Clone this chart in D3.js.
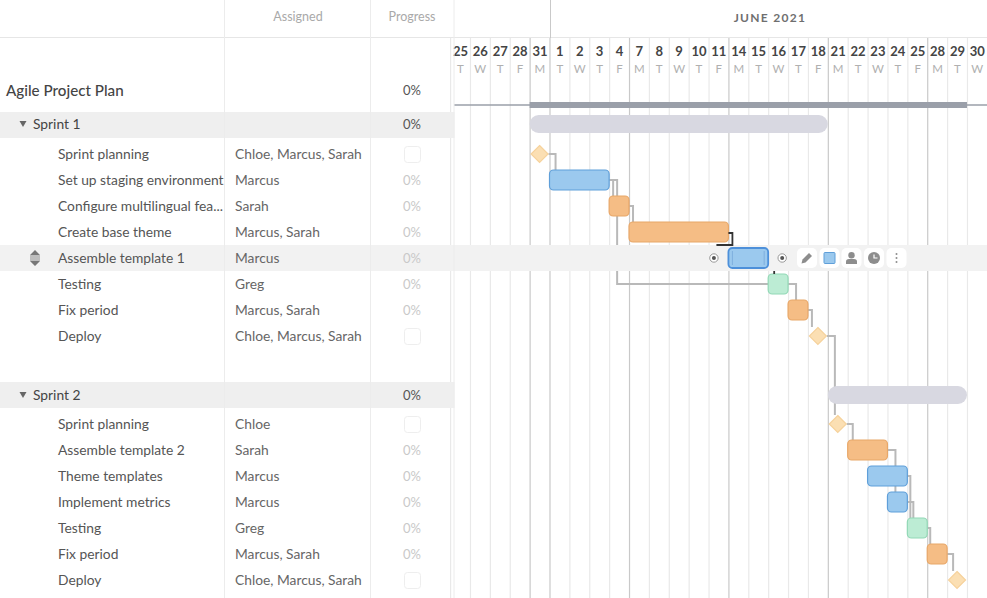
<!DOCTYPE html>
<html>
<head>
<meta charset="utf-8">
<script src="https://cdn.jsdelivr.net/npm/d3@7"></script>
<style>
  html, body { margin: 0; padding: 0; background: #fff; overflow: hidden; }
  svg { display: block; font-family: Lato, "Open Sans", sans-serif; }
</style>
</head>
<body>
<svg id="chart" width="987" height="598"></svg>
<script>
const dayNumbers = [25, 26, 27, 28, 31, 1, 2, 3, 4, 7, 8, 9, 10, 11, 14, 15, 16, 17, 18, 21, 22, 23, 24, 25, 28, 29, 30];
const weekDays = ["T", "W", "T", "F", "M", "T", "W", "T", "F", "M", "T", "W", "T", "F", "M", "T", "W", "T", "F", "M", "T", "W", "T", "F", "M", "T", "W"];

// one entry per row, "" is the empty row between the sprints
const rowNames = ["Agile Project Plan", "Sprint 1", "Sprint planning", "Set up staging environment", "Configure multilingual fea...", "Create base theme", "Assemble template 1", "Testing", "Fix period", "Deploy", "", "Sprint 2", "Sprint planning", "Assemble template 2", "Theme templates", "Implement metrics", "Testing", "Fix period", "Deploy"];
const rowAssigned = ["", "", "Chloe, Marcus, Sarah", "Marcus", "Sarah", "Marcus, Sarah", "Marcus", "Greg", "Marcus, Sarah", "Chloe, Marcus, Sarah", "", "", "Chloe", "Sarah", "Marcus", "Marcus", "Greg", "Marcus, Sarah", "Chloe, Marcus, Sarah"];
const rowKinds = ["project", "sprint", "milestone", "blue", "orange", "orange", "blue", "green", "orange", "milestone", "none", "sprint", "milestone", "orange", "blue", "blue", "green", "orange", "milestone"];
const rowStart = [4, 4, 4, 5, 8, 9, 14, 16, 17, 18, null, 19, 19, 20, 21, 22, 23, 24, 25];
const rowEnd = [26, 19, 5, 8, 9, 14, 16, 17, 18, 19, null, 26, 20, 22, 23, 23, 24, 25, 26];

// from row, to row, style of the elbow
const linkFrom = [2, 3, 3, 4, 7, 8, 9, 12, 13, 14, 15, 14, 16, 17];
const linkTo = [3, 4, 7, 5, 8, 9, 12, 13, 14, 16, 16, 15, 17, 18];
const linkBend = [7, 4, 8, 4, 8, 4, 8, 6, 8, 3, 6, 8, 3, 6];

const selectedRow = 6;
const width = 987;
const height = 598;
const panelRight = 454.5;
const svg = d3.select("#chart");

const x = d3.scaleLinear().domain([0, 27]).range([450.1, 986.86]);
// row tops are uneven, the title row and the sprint rows are taller
const rowCentre = [90, 124, 154, 180, 206, 232, 258, 284, 310, 336, 362, 395, 424, 450, 476, 502, 528, 554, 580];
const y = d3.scaleOrdinal().domain(d3.range(rowNames.length)).range(rowCentre);

const isBoundary = (i) => weekDays[i] === "M" || dayNumbers[i] === 1;

const colors = {
  blue: ["#9bc9ee", "#5f9fd9"],
  orange: ["#f5bd85", "#e8a768"],
  green: ["#bcecd4", "#92d8b6"],
  milestone: ["#fbdfb3", "#f6d29c"],
};

// grid
svg.append("g").selectAll("line").data(d3.range(27)).join("line")
  .attr("x1", (d) => x(d) + 0.5).attr("x2", (d) => x(d) + 0.5)
  .attr("y1", 38).attr("y2", height)
  .attr("stroke", (d) => (isBoundary(d) ? "#c9c9c9" : "#e9e9e9"))
  .attr("stroke-width", 1.2);

// header
svg.append("line").attr("x1", 0).attr("x2", width).attr("y1", 37.5).attr("y2", 37.5).attr("stroke", "#e6e6e6");
svg.append("line").attr("x1", x(5) + 1).attr("x2", x(5) + 1).attr("y1", 0).attr("y2", 38).attr("stroke", "#c9c9c9");
svg.append("text").attr("x", 770).attr("y", 22).attr("text-anchor", "middle")
  .attr("font-size", 12).attr("font-weight", 700).attr("letter-spacing", 1.3).attr("fill", "#6f6f6f")
  .text("JUNE 2021");
svg.append("g").selectAll("text").data(dayNumbers).join("text")
  .attr("x", (d, i) => x(i + 0.5) + 0.4).attr("y", 56).attr("text-anchor", "middle")
  .attr("font-size", 13).attr("font-weight", 700).attr("fill", "#444")
  .text((d) => d);
svg.append("g").selectAll("text").data(weekDays).join("text")
  .attr("x", (d, i) => x(i + 0.5) + 0.4).attr("y", 73).attr("text-anchor", "middle")
  .attr("font-size", 11.5).attr("fill", "#b0b0b0")
  .text((d) => d);

// links run under the selected row band and the bars
const linkLayer = svg.append("g").attr("fill", "none").attr("stroke", "#b9b9b9").attr("stroke-width", 2);
function rowRight(r) {
  return rowKinds[r] === "milestone" ? x(rowStart[r] + 0.5) + 9 : x(rowEnd[r]);
}
function rowTop(r) {
  return rowKinds[r] === "milestone" ? y(r) - 9 : y(r) - 10;
}
linkLayer.selectAll("path").data(linkFrom).join("path")
  .attr("d", (from, i) => {
    const to = linkTo[i];
    const bendX = rowRight(from) + linkBend[i];
    if (from === 3 && to === 7) {
      return `M${rowRight(from)},${y(from)}H${bendX}V${y(to)}H${x(rowStart[to])}`;
    }
    if (from === 14 && to === 15) {
      return `M${x(rowEnd[to] - 0.6)},${y(from) + 10}V${rowTop(to)}`;
    }
    return `M${rowRight(from)},${y(from)}H${bendX}V${rowTop(to)}`;
  });

// row bands
svg.append("rect").attr("x", 0).attr("y", y(selectedRow) - 13).attr("width", width).attr("height", 26).attr("fill", "#f2f2f2");
svg.append("g").selectAll("rect").data(d3.range(rowNames.length).filter((r) => rowKinds[r] === "sprint")).join("rect")
  .attr("x", 0).attr("y", (r) => y(r) - (r === 11 ? 13 : 12)).attr("width", panelRight).attr("height", 26)
  .attr("fill", "#efefef");

// left panel rules
svg.append("g").selectAll("line").data([224.5, 370.5, panelRight - 0.5]).join("line")
  .attr("x1", (d) => d).attr("x2", (d) => d).attr("y1", 0).attr("y2", height)
  .attr("stroke", "#ececec");

svg.append("text").attr("x", 298).attr("y", 21).attr("text-anchor", "middle").attr("font-size", 12.5).attr("fill", "#a9a9a9").text("Assigned");
svg.append("text").attr("x", 412).attr("y", 21).attr("text-anchor", "middle").attr("font-size", 12.5).attr("fill", "#a9a9a9").text("Progress");

// task, assignee and progress cells
const rows = d3.range(rowNames.length).filter((r) => rowKinds[r] !== "none");
svg.append("g").selectAll("text").data(rows).join("text")
  .attr("x", (r) => (rowKinds[r] === "project" ? 6 : rowKinds[r] === "sprint" ? 33 : 58))
  .attr("y", (r) => y(r) + (rowKinds[r] === "project" ? 5.5 : 4.6))
  .attr("font-size", (r) => (rowKinds[r] === "project" ? 15.2 : 13.8))
  .attr("font-weight", (r) => (rowKinds[r] === "project" ? 500 : 400))
  .attr("fill", (r) => (rowKinds[r] === "project" || rowKinds[r] === "sprint" ? "#444" : "#555"))
  .text((r) => rowNames[r]);
svg.append("g").selectAll("text").data(rows).join("text")
  .attr("x", 235).attr("y", (r) => y(r) + 4.6).attr("font-size", 13.8).attr("fill", "#666")
  .text((r) => rowAssigned[r]);
svg.append("g").selectAll("text").data(rows.filter((r) => rowKinds[r] !== "milestone")).join("text")
  .attr("x", 412).attr("y", (r) => y(r) + 5).attr("text-anchor", "middle").attr("font-size", 13)
  .attr("fill", (r) => (rowKinds[r] === "project" || rowKinds[r] === "sprint" ? "#555" : "#c9c9c9"))
  .text("0%");
svg.append("g").selectAll("rect").data(rows.filter((r) => rowKinds[r] === "milestone")).join("rect")
  .attr("x", 404.5).attr("y", (r) => y(r) - 7.5).attr("width", 16).attr("height", 16).attr("rx", 3)
  .attr("fill", "#fff").attr("stroke", "#eee");

// sprint carets and row grip
svg.append("g").selectAll("path").data(rows.filter((r) => rowKinds[r] === "sprint")).join("path")
  .attr("d", (r) => `M19.5,${y(r) - 3}h7l-3.5,6z`).attr("fill", "#666");
const gripY = y(selectedRow);
svg.append("path").attr("d", `M30,${gripY - 3}l5,-5l5,5zM30,${gripY + 3}l5,5l5,-5z`).attr("fill", "#777");
svg.append("g").selectAll("line").data([-2, 0, 2]).join("line")
  .attr("x1", 30).attr("x2", 40).attr("y1", (d) => gripY + d).attr("y2", (d) => gripY + d)
  .attr("stroke", "#888").attr("stroke-width", 1);

// summary bars
svg.append("line").attr("x1", panelRight).attr("x2", width).attr("y1", 105).attr("y2", 105).attr("stroke", "#9a9fa8").attr("stroke-width", 1.5);
svg.append("rect").attr("x", x(rowStart[0])).attr("y", 102).attr("width", x(rowEnd[0]) - x(rowStart[0])).attr("height", 6).attr("fill", "#9a9fa9");
svg.append("g").selectAll("rect").data(rows.filter((r) => rowKinds[r] === "sprint")).join("rect")
  .attr("x", (r) => x(rowStart[r])).attr("y", (r) => y(r) - 9)
  .attr("width", (r) => x(rowEnd[r]) - x(rowStart[r])).attr("height", 18).attr("rx", 9)
  .attr("fill", "#d8d8e1");

// task bars
const taskRows = rows.filter((r) => colors[rowKinds[r]] && rowKinds[r] !== "milestone");
svg.append("g").selectAll("rect").data(taskRows).join("rect")
  .attr("x", (r) => x(rowStart[r])).attr("y", (r) => y(r) - 10)
  .attr("width", (r) => x(rowEnd[r]) - x(rowStart[r])).attr("height", 20).attr("rx", 4)
  .attr("fill", (r) => colors[rowKinds[r]][0])
  .attr("stroke", (r) => (r === selectedRow ? "#4d90da" : colors[rowKinds[r]][1]))
  .attr("stroke-width", (r) => (r === selectedRow ? 1.8 : 1.2));

// milestones
svg.append("g").selectAll("path").data(rows.filter((r) => rowKinds[r] === "milestone")).join("path")
  .attr("transform", (r) => `translate(${x(rowStart[r] + 0.5)},${y(r)})`)
  .attr("d", "M0,-8.5L8.5,0L0,8.5L-8.5,0Z")
  .attr("fill", colors.milestone[0]).attr("stroke", colors.milestone[1]).attr("stroke-width", 1.2);

// selected task: black links, drag handles, toolbar
const selStart = x(rowStart[selectedRow]);
const selEnd = x(rowEnd[selectedRow]);
const selY = y(selectedRow);
svg.append("path").attr("fill", "none").attr("stroke", "#333").attr("stroke-width", 1.8)
  .attr("d", `M${selStart},${y(selectedRow - 1) + 1}h4v${selY - y(selectedRow - 1) - 14}h-16`);
svg.append("line").attr("x1", x(rowStart[selectedRow + 1]) + 6).attr("x2", x(rowStart[selectedRow + 1]) + 6)
  .attr("y1", selY + 13).attr("y2", selY + 16).attr("stroke", "#333").attr("stroke-width", 1.8);
svg.append("g").selectAll("line").data([selStart + 4, selEnd - 4]).join("line")
  .attr("x1", (d) => d).attr("x2", (d) => d).attr("y1", selY - 7).attr("y2", selY + 7)
  .attr("stroke", "#7fb0de").attr("stroke-width", 1);
const handles = svg.append("g").selectAll("g").data([selStart - 14.5, selEnd + 14]).join("g")
  .attr("transform", (d) => `translate(${d},${selY})`);
handles.append("circle").attr("r", 4.2).attr("fill", "#fff").attr("stroke", "#999");
handles.append("circle").attr("r", 2).attr("fill", "#555");

const toolX = [807, 829.5, 851.5, 874, 896.5];
const tools = svg.append("g").selectAll("g").data(toolX).join("g")
  .attr("transform", (d) => `translate(${d},${selY})`);
tools.append("rect").attr("x", -10).attr("y", -10).attr("width", 20).attr("height", 20).attr("rx", 5).attr("fill", "#fff");
const iconGrey = "#8d8d8d";
tools.filter((d, i) => i === 0).append("path")
  .attr("d", "M-5.5,5.5L-4.5,1.5L2,-5L5,-2L-1.5,4.5Z").attr("fill", iconGrey);
tools.filter((d, i) => i === 1).append("rect")
  .attr("x", -5.5).attr("y", -5.5).attr("width", 11).attr("height", 11).attr("rx", 1)
  .attr("fill", colors.blue[0]).attr("stroke", colors.blue[1]);
const person = tools.filter((d, i) => i === 2);
person.append("circle").attr("cy", -2.8).attr("r", 3.2).attr("fill", iconGrey);
person.append("path").attr("d", "M-5.5,6V3.5Q-5.5,1 -2.5,1H2.5Q5.5,1 5.5,3.5V6Z").attr("fill", iconGrey);
const clock = tools.filter((d, i) => i === 3);
clock.append("circle").attr("r", 6).attr("fill", iconGrey);
clock.append("path").attr("d", "M0,-3.5V0H3.5").attr("fill", "none").attr("stroke", "#fff").attr("stroke-width", 1.2);
tools.filter((d, i) => i === 4).selectAll("circle").data([-4, 0, 4]).join("circle")
  .attr("cy", (d) => d).attr("r", 1).attr("fill", iconGrey);
</script>
</body>
</html>
